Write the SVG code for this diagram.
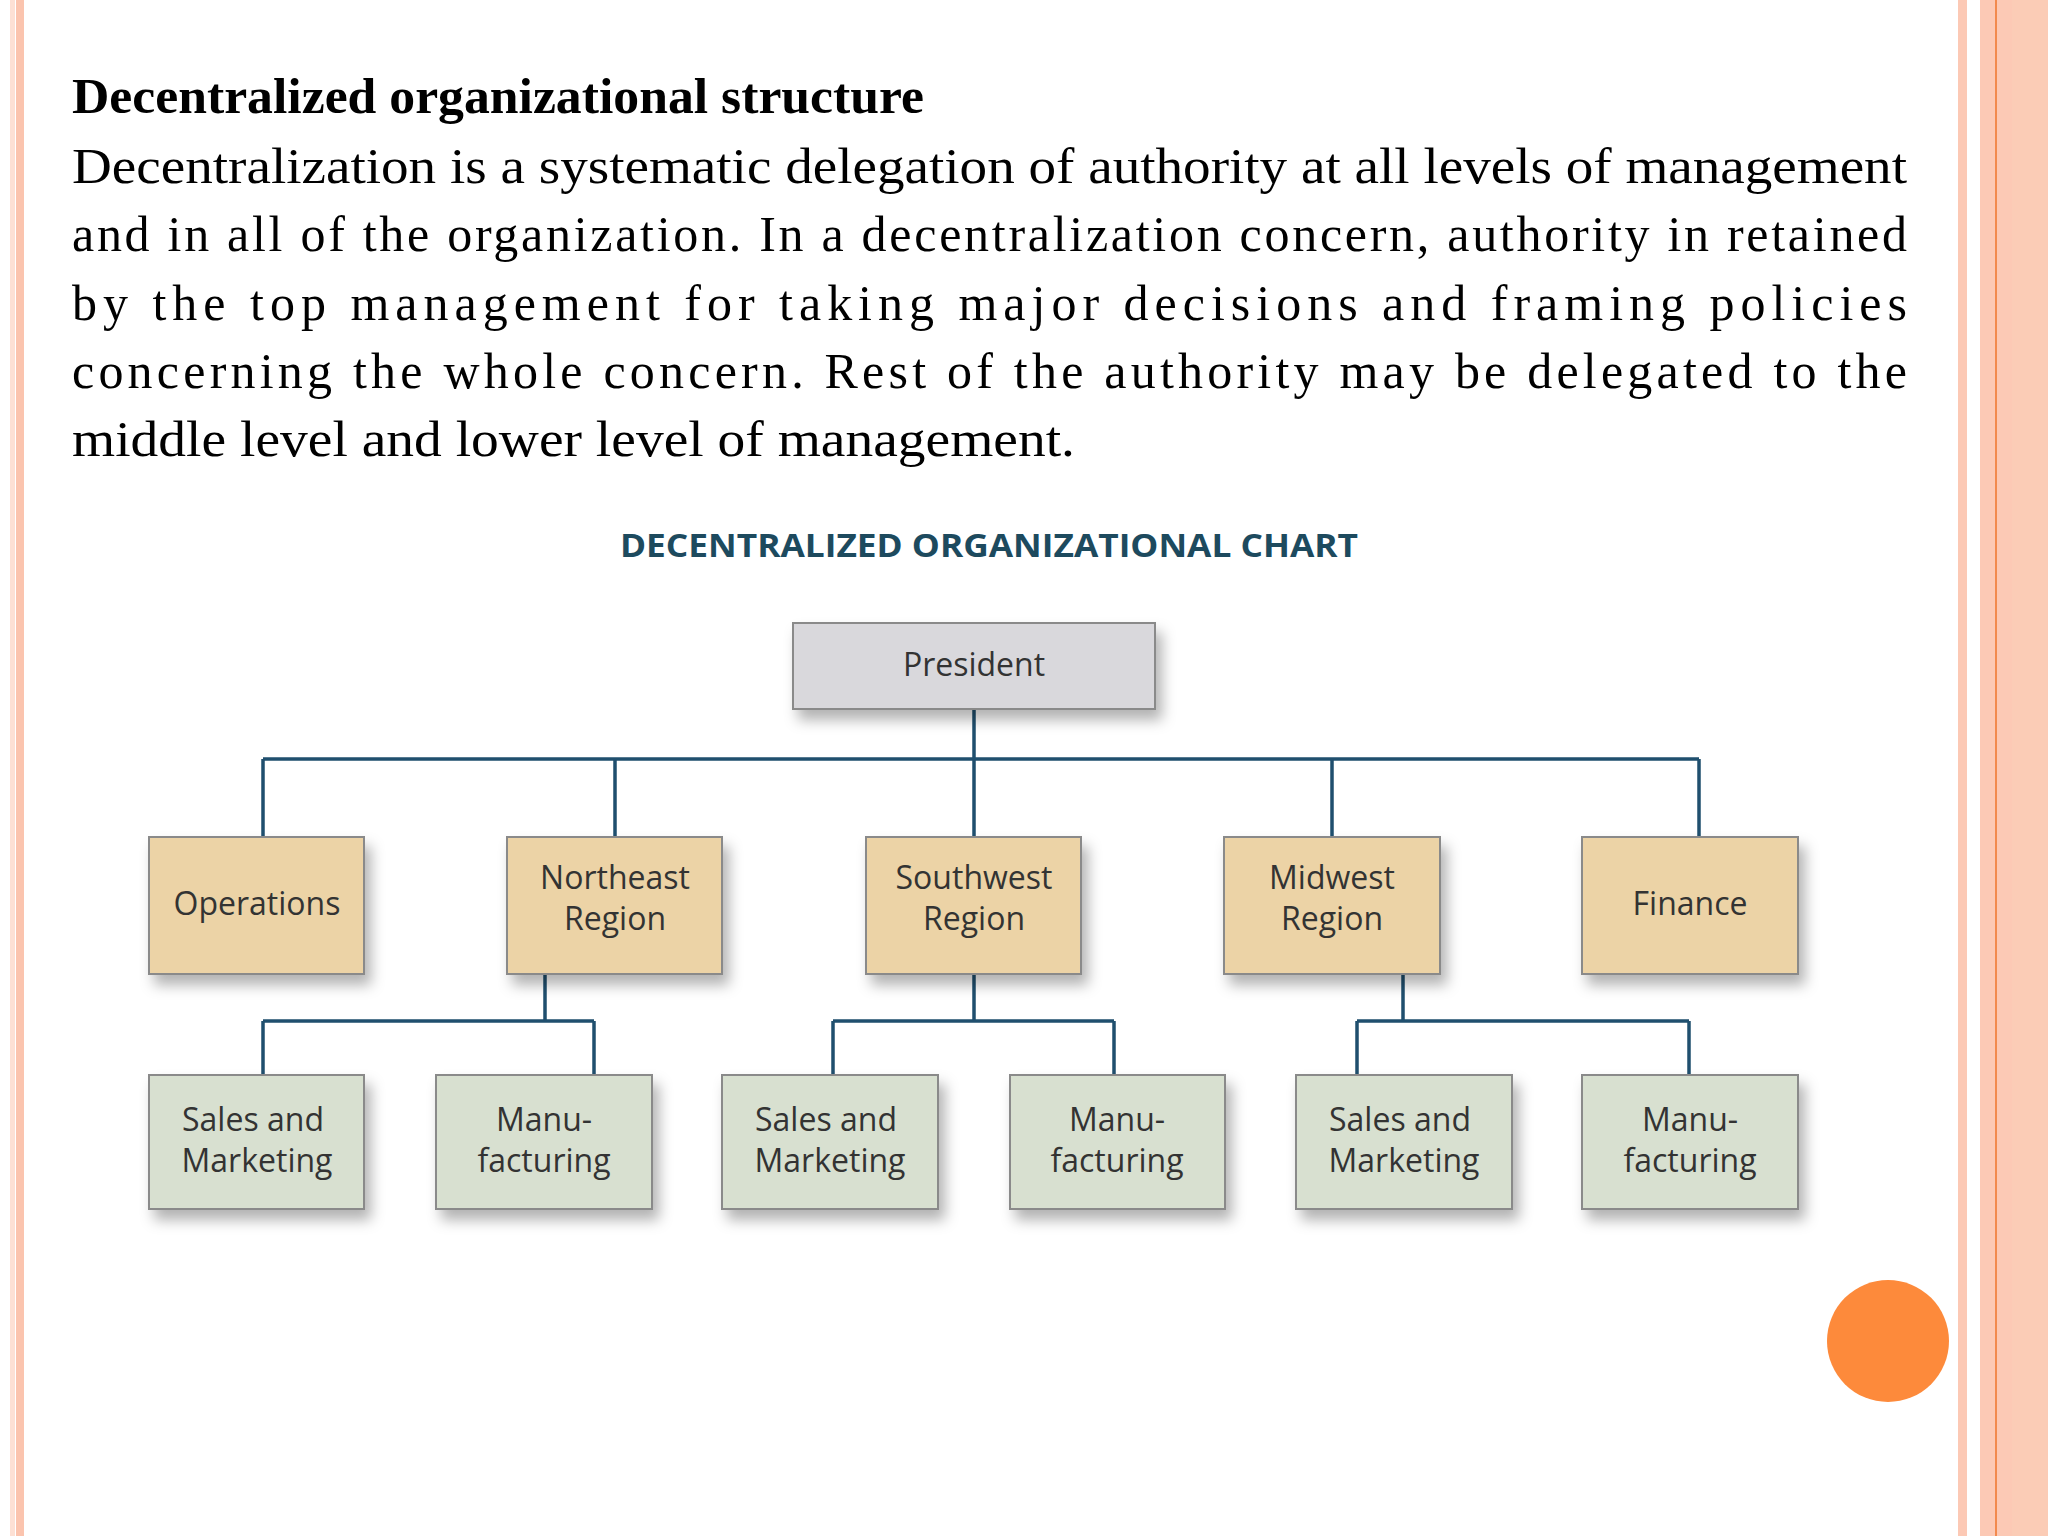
<svg xmlns="http://www.w3.org/2000/svg" width="2048" height="1536" viewBox="0 0 2048 1536">
<defs>
<filter id="sh" x="-20%" y="-20%" width="150%" height="160%">
<feDropShadow dx="6" dy="10" stdDeviation="7" flood-color="#000" flood-opacity="0.3"/>
</filter>
<style>
.body{font-family:"Liberation Serif",serif;font-size:50px;fill:#000}
.box{stroke:#8a8a8a;stroke-width:2;filter:url(#sh)}
.pres{fill:#d9d8dc}
.l2{fill:#ecd3a6}
.l3{fill:#d8e0d0}
.lbl{font-family:"Open Sans","Noto Sans",sans-serif;font-size:32px;fill:#333;text-anchor:middle}
.con{stroke:#1f4f6e;stroke-width:3.5;fill:none}
</style>
</defs>
<rect width="2048" height="1536" fill="#fff"/>
<rect x="10" y="0" width="5" height="1536" fill="#fde0d4"/>
<rect x="16" y="0" width="8" height="1536" fill="#fbc4ae"/>
<rect x="1958" y="0" width="9" height="1536" fill="#fcc9b5"/>
<rect x="1980" y="0" width="68" height="1536" fill="#fcc9b5"/>
<rect x="1995" y="0" width="2" height="1536" fill="#f28a4e"/>
<rect x="2012" y="0" width="36" height="1536" fill="#fbccb6"/>
<g id="text">
<text class="body" x="72" y="113" font-weight="bold" font-size="48" textLength="852" lengthAdjust="spacingAndGlyphs">Decentralized organizational structure</text>
<text class="body" x="72" y="183" textLength="1835" lengthAdjust="spacingAndGlyphs">Decentralization is a systematic delegation of authority at all levels of management</text>
<text class="body" x="72" y="251" textLength="1835" lengthAdjust="spacing">and in all of the organization. In a decentralization concern, authority in retained</text>
<text class="body" x="72" y="320" textLength="1835" lengthAdjust="spacing">by the top management for taking major decisions and framing policies</text>
<text class="body" x="72" y="388" textLength="1835" lengthAdjust="spacing">concerning the whole concern. Rest of the authority may be delegated to the</text>
<text class="body" x="72" y="456" textLength="1003" lengthAdjust="spacingAndGlyphs">middle level and lower level of management.</text>
<text x="989" y="557" text-anchor="middle" font-family="'Open Sans','Noto Sans',sans-serif" font-weight="bold" font-size="32" fill="#1d4a5e" textLength="738" lengthAdjust="spacingAndGlyphs">DECENTRALIZED ORGANIZATIONAL CHART</text>
</g>
<g id="connectors">
<path class="con" d="M974 709V837M263 759H1699M263 759V837M615 759V837M1332 759V837M1699 759V837"/>
<path class="con" d="M545 974V1021M263 1021H594M263 1021V1075M594 1021V1075"/>
<path class="con" d="M974 974V1021M833 1021H1114M833 1021V1075M1114 1021V1075"/>
<path class="con" d="M1403 974V1021M1357 1021H1689M1357 1021V1075M1689 1021V1075"/>
</g>
<g id="president"><rect class="box pres" x="793" y="623" width="362" height="86"/><text class="lbl" x="974" y="676">President</text></g>
<g id="operations"><rect class="box l2" x="149" y="837" width="215" height="137"/><text class="lbl" x="257" y="915">Operations</text></g>
<g id="northeast"><rect class="box l2" x="507" y="837" width="215" height="137"/><text class="lbl" x="615" y="889">Northeast</text><text class="lbl" x="615" y="930">Region</text></g>
<g id="southwest"><rect class="box l2" x="866" y="837" width="215" height="137"/><text class="lbl" x="974" y="889">Southwest</text><text class="lbl" x="974" y="930">Region</text></g>
<g id="midwest"><rect class="box l2" x="1224" y="837" width="216" height="137"/><text class="lbl" x="1332" y="889">Midwest</text><text class="lbl" x="1332" y="930">Region</text></g>
<g id="finance"><rect class="box l2" x="1582" y="837" width="216" height="137"/><text class="lbl" x="1690" y="915">Finance</text></g>
<g id="sm1"><rect class="box l3" x="149" y="1075" width="215" height="134"/><text class="lbl" x="253" y="1131">Sales and</text><text class="lbl" x="257" y="1172">Marketing</text></g>
<g id="mf1"><rect class="box l3" x="436" y="1075" width="216" height="134"/><text class="lbl" x="544" y="1131">Manu-</text><text class="lbl" x="544" y="1172">facturing</text></g>
<g id="sm2"><rect class="box l3" x="722" y="1075" width="216" height="134"/><text class="lbl" x="826" y="1131">Sales and</text><text class="lbl" x="830" y="1172">Marketing</text></g>
<g id="mf2"><rect class="box l3" x="1010" y="1075" width="215" height="134"/><text class="lbl" x="1117" y="1131">Manu-</text><text class="lbl" x="1117" y="1172">facturing</text></g>
<g id="sm3"><rect class="box l3" x="1296" y="1075" width="216" height="134"/><text class="lbl" x="1400" y="1131">Sales and</text><text class="lbl" x="1404" y="1172">Marketing</text></g>
<g id="mf3"><rect class="box l3" x="1582" y="1075" width="216" height="134"/><text class="lbl" x="1690" y="1131">Manu-</text><text class="lbl" x="1690" y="1172">facturing</text></g>
<circle cx="1888" cy="1341" r="61" fill="#fd8a3b"/>
</svg>
